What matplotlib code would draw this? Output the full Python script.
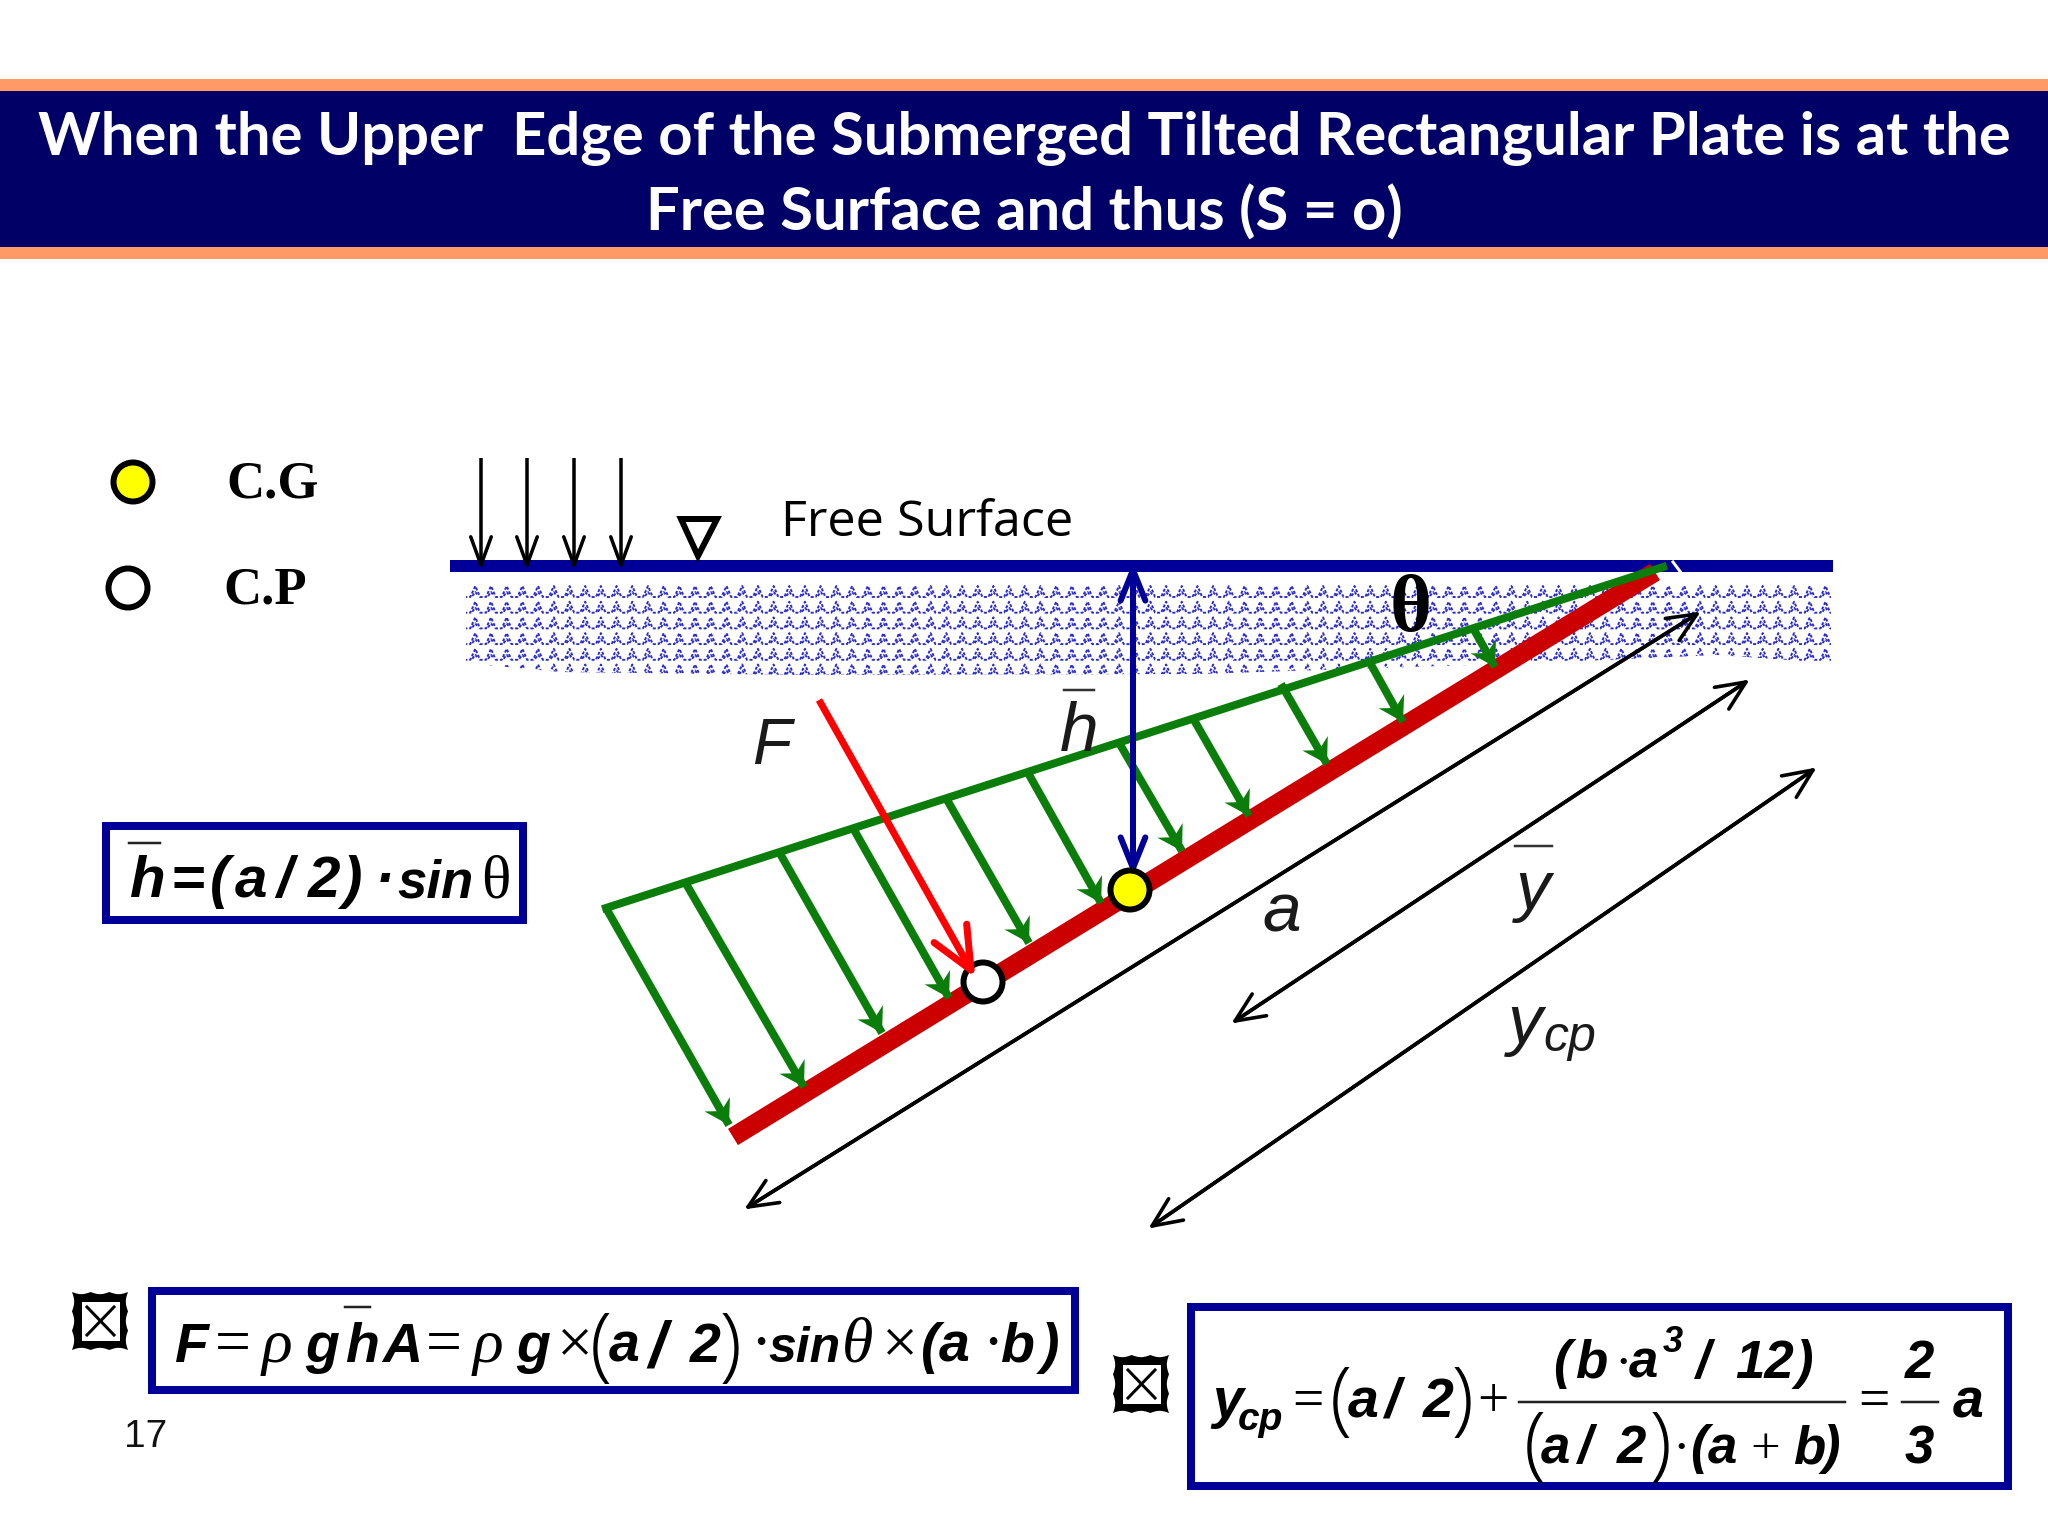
import numpy as np
import matplotlib
matplotlib.use('Agg')
import matplotlib.pyplot as plt
from matplotlib.patches import Rectangle, Circle, Polygon

# everything is in pixels of the 2048x1536 slide
navy = '#000066'
orange = '#ff9966'
blue = '#000099'
green = '#0b7d0b'
red = '#cc0000'

title_lines = ['When the Upper  Edge of the Submerged Tilted Rectangular Plate is at the',
               'Free Surface and thus (S = o)']
title_y = [139, 213]

rain_x = [481, 527, 574, 621]
water_outline = [(466, 580), (1831, 580), (1831, 663), (1717, 655), (1560, 662), (1200, 674),
                 (800, 675), (560, 672), (466, 663)]

plate = [(733, 1137), (1655, 572)]
load_line = [(606, 908), (1663, 567)]
load_start = [(606, 908), (685, 882), (778, 850), (853, 828), (946, 798), (1027, 771),
              (1118, 741), (1194, 720), (1281, 684), (1369, 661), (1473, 628)]
load_end = [(729, 1125), (804, 1087), (882, 1033), (949, 998), (1029, 943), (1101, 903),
            (1182, 851), (1249, 816), (1327, 764), (1403, 722), (1495, 667)]

force = [(819, 700), (971, 970)]
hbar_arrow = [(1133, 570), (1133, 868)]
dim_a = [(748, 1207), (1697, 614)]
dim_y = [(1235, 1021), (1746, 682)]
dim_ycp = [(1152, 1226), (1813, 770)]

cg_pos = (1130, 890)
cp_pos = (983, 982)

box_h = (102, 822, 527, 924)
box_f = (148, 1287, 1079, 1394)
box_y = (1187, 1303, 2012, 1490)
bullets = [(72, 1292, 128, 1350), (1113, 1355, 1169, 1413)]

h_tokens = ['h', '=', '(', 'a', '/', '2', ')', '·']
h_x = [130, 170, 210, 235, 276, 308, 342, 375]
f_tokens = ['F', 'g', 'h', 'A', 'g', 'a', '2', '(', 'a', 'b', ')']
f_x = [174, 305, 345, 382, 516, 609, 690, 921, 939, 1000, 1041]
f_plain = ['=', 'ρ', '=', 'ρ', '×', '·', 'θ', '×', '·']
f_plain_x = [215, 262, 426, 473, 557, 750, 842, 882, 982]

y_num = ['(', 'b', 'a', '/', '12', ')']
y_num_x = [1553, 1575, 1629, 1696, 1735, 1796]
y_den = ['a', '/', '2', '(', 'a', 'b', ')']
y_den_x = [1541, 1578, 1617, 1690, 1708, 1793, 1823]
y_main = ['y', 'a', '/', '2', 'a']
y_main_x = [1212, 1348, 1384, 1423, 1953]


def px(w):
    return w * 0.72


def open_arrow(a, b, color, lw, head, ang=24, both=False, z=3):
    # shaft plus two round capped barbs at the tip(s)
    ax.plot([a[0], b[0]], [a[1], b[1]], color=color, lw=px(lw), solid_capstyle='butt', zorder=z)
    ends = [(a, b), (b, a)] if both else [(a, b)]
    for p, q in ends:
        t = np.arctan2(p[1] - q[1], p[0] - q[0])
        for s in (-1, 1):
            e = (q[0] + head * np.cos(t + s * np.radians(ang)), q[1] + head * np.sin(t + s * np.radians(ang)))
            ax.plot([q[0], e[0]], [q[1], e[1]], color=color, lw=px(lw), solid_capstyle='round', zorder=z)


def load_arrow(a, b):
    # green swept arrow head
    ax.plot([a[0], b[0]], [a[1], b[1]], color=green, lw=px(8), solid_capstyle='butt', zorder=3)
    t = np.arctan2(a[1] - b[1], a[0] - b[0])
    pts = [b]
    for d, o in ((28, 0.55), (16, 0.0), (28, -0.55)):
        pts.append((b[0] + d * np.cos(t + o), b[1] + d * np.sin(t + o)))
    ax.add_patch(Polygon(pts, closed=True, fc=green, ec='none', zorder=3))


fig = plt.figure(figsize=(20.48, 15.36), dpi=100, facecolor='white')
ax = fig.add_axes([0, 0, 1, 1])
ax.set_xlim(0, 2048)
ax.set_ylim(1536, 0)
ax.axis('off')

# title band
ax.add_patch(Rectangle((0, 79), 2048, 180, fc=orange, ec='none'))
ax.add_patch(Rectangle((0, 91), 2048, 156, fc=navy, ec='none'))
for s, y in zip(title_lines, title_y):
    ax.text(1024, y, s, color='white', family='Lato', weight='bold', fontsize=43, ha='center', va='center')

# water texture, clipped to the hand traced outline
clip = Polygon(water_outline, closed=True, fc='none', ec='none')
ax.add_patch(clip)
xs = np.arange(467.3, 1840, 15.7)
for row in range(6):
    y0 = 597 + row * 15.7
    wx = np.ravel([[x - 3, x + 3, x + 8] for x in xs])
    wy = np.ravel([[y0, y0, y0 - 11] for x in xs])
    line, = ax.plot(wx, wy, color='#2a2ad0', lw=px(1.9), ls=(0, (1.6, 1.0)))
    line.set_clip_path(clip)
    cx = np.ravel([[x + 5, x + 8, x + 11, np.nan] for x in xs])
    cy = np.ravel([[y0 - 1, y0 - 5, y0 - 1, np.nan] for x in xs])
    line, = ax.plot(cx, cy, color='#2a2ad0', lw=px(1.9), ls=(0, (1.6, 1.0)))
    line.set_clip_path(clip)

# free surface
ax.add_patch(Rectangle((450, 560), 1383, 12, fc=blue, ec='none'))
ax.plot([1673, 1682], [562, 574], color='white', lw=px(3))
for x in rain_x:
    open_arrow((x, 458), (x, 565), 'black', 3.5, 30, ang=20)
ax.add_patch(Polygon([(681, 519), (717, 519), (698, 556)], closed=True, fc='white', ec='black', lw=px(6)))
ax.text(781, 523, 'Free Surface', family='Open Sans', fontsize=36.3, color='black', ha='left', va='center')

# plate and pressure load
ax.plot(*zip(*plate), color=red, lw=px(19), solid_capstyle='butt')
ax.plot(*zip(*load_line), color=green, lw=px(8), solid_capstyle='projecting', zorder=3)
for a, b in zip(load_start, load_end):
    load_arrow(a, b)

open_arrow(*hbar_arrow, blue, 6, 33, ang=22, both=True, z=4)
for d in (dim_a, dim_y, dim_ycp):
    open_arrow(*d, 'black', 3.6, 32, ang=24)
    open_arrow(d[1], d[0], 'black', 3.6, 32, ang=24)

ax.add_patch(Circle(cg_pos, 19.5, fc='#ffff00', ec='black', lw=px(6), zorder=5))
ax.add_patch(Circle(cp_pos, 19.5, fc='white', ec='black', lw=px(6), zorder=5))
open_arrow(*force, '#ff0000', 7, 46, ang=24, z=6)

# legend
ax.add_patch(Circle((133, 482), 19.5, fc='#ffff00', ec='black', lw=px(6)))
ax.add_patch(Circle((128, 588), 19.5, fc='white', ec='black', lw=px(6)))
ax.text(226, 484, 'C.G', family='Liberation Serif', weight='bold', fontsize=38, ha='left', va='center')
ax.text(223, 590, 'C.P', family='Liberation Serif', weight='bold', fontsize=38, ha='left', va='center')

# diagram labels
ital = dict(family='Liberation Sans', style='italic', color='#1a1a1a', ha='center', va='center')
ax.text(772, 747, 'F', fontsize=46, **ital)
ax.text(1079, 733, 'h', fontsize=50, **ital)
ax.plot([1064, 1094], [690, 690], color='#333333', lw=px(2.5))
ax.text(1282, 913, 'a', fontsize=50, **ital)
ax.text(1533, 891, 'y', fontsize=50, **ital)
ax.plot([1515, 1552], [846, 846], color='#333333', lw=px(2.5))
ax.text(1525, 1025, 'y', fontsize=50, **ital)
ax.text(1570, 1038, 'cp', fontsize=36, **ital)
ax.text(1411, 611, 'θ', family='Liberation Serif', weight='bold', fontsize=58, ha='center', va='center')


def box(b):
    x0, y0, x1, y1 = b
    ax.add_patch(Rectangle((x0 + 4, y0 + 4), x1 - x0 - 8, y1 - y0 - 8, fc='white', ec=blue, lw=px(8)))


def bi(s, x, y, size):
    ax.text(x, y, s, family='Liberation Sans', weight='bold', style='italic', fontsize=size,
            ha='left', va='baseline', color='black')


def plain(s, x, y, size, fam='Liberation Serif', style='normal'):
    ax.text(x, y, s, family=fam, style=style, fontsize=size, ha='left', va='baseline', color='black')


def thin_paren(s, x, y, size):
    ax.text(x, y, s, family='Open Sans', weight='light', fontsize=size, ha='left', va='baseline', color='black')


# h bar formula
box(box_h)
for s, x in zip(h_tokens, h_x):
    bi(s, x, 897, 42)
bi('sin', 397, 897, 38)
ax.plot([129, 160], [843, 843], color='#222222', lw=px(2.5))
plain('θ', 481, 897, 44)

# force formula
box(box_f)
for s, x in zip(f_tokens, f_x):
    bi(s, x, 1362, 40)
bi('sin', 768, 1362, 36)
bi('/', 648, 1366, 46)
for s, x in zip(f_plain, f_plain_x):
    plain(s, x, 1362, 46, style='italic' if s in 'ρθ' else 'normal')
thin_paren('(', 590, 1371, 58)
thin_paren(')', 720, 1371, 58)
ax.plot([345, 370], [1307, 1307], color='#222222', lw=px(2.5))

# centre of pressure formula
box(box_y)
for s, x in zip(y_main, y_main_x):
    bi(s, x, 1417, 40)
bi('cp', 1238, 1430, 28)
for s, x in zip(y_num, y_num_x):
    bi(s, x, 1378, 38)
bi('3', 1663, 1352, 26)
for s, x in zip(y_den, y_den_x):
    bi(s, x, 1463, 38)
bi('2', 1905, 1378, 38)
bi('3', 1905, 1463, 38)
plain('=', 1292, 1417, 40)
thin_paren('(', 1330, 1425, 58)
thin_paren(')', 1452, 1425, 58)
plain('+', 1477, 1417, 40)
plain('·', 1614, 1378, 38)
thin_paren('(', 1524, 1470, 58)
thin_paren(')', 1650, 1470, 58)
plain('·', 1672, 1463, 38)
plain('+', 1750, 1463, 38)
plain('=', 1858, 1417, 40)
ax.plot([1519, 1845], [1402, 1402], color='#222222', lw=px(2.5))
ax.plot([1902, 1938], [1402, 1402], color='#222222', lw=px(2.5))

# bullets that came out as missing glyph frames, scalloped edge
u = np.linspace(0, 1, 25)
wave = 2.2 * np.abs(np.sin(3 * np.pi * u))
for x0, y0, x1, y1 in bullets:
    w, h = x1 - x0, y1 - y0
    top = np.c_[x0 + u * w, y0 + wave]
    right = np.c_[x1 - wave, y0 + u * h]
    bottom = np.c_[x1 - u * w, y1 - wave]
    left = np.c_[x0 + wave, y1 - u * h]
    ax.add_patch(Polygon(np.r_[top, right, bottom, left], closed=True, fc='black', ec='none'))
    ax.add_patch(Rectangle((x0 + 10, y0 + 10), w - 18, h - 19, fc='white', ec='none'))
    ax.plot([x0 + 15, x1 - 14], [y0 + 15, y1 - 15], color='black', lw=px(3))
    ax.plot([x0 + 15, x1 - 14], [y1 - 15, y0 + 15], color='black', lw=px(3))

ax.text(124, 1447, '17', family='Liberation Sans', fontsize=28, ha='left', va='baseline', color='#111111')

fig.savefig('out.png', dpi=100, facecolor='white')
